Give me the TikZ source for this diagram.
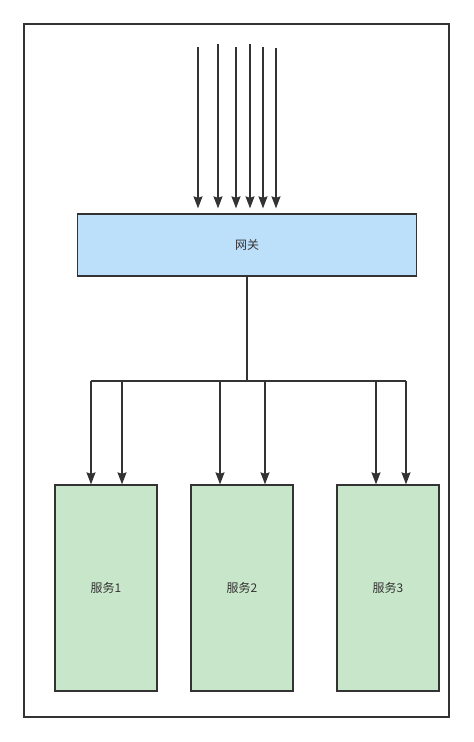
\documentclass[tikz,border=0pt]{standalone}
\usepackage{fontspec}
\newfontfamily\cjk{Noto Sans CJK SC}
\usepackage{tikz}
\usetikzlibrary{arrows.meta,positioning}
\definecolor{edgegray}{RGB}{51,51,51}
\definecolor{gwblue}{RGB}{189,224,250}
\definecolor{svgreen}{RGB}{200,230,201}

\begin{document}
\begin{tikzpicture}[x=1pt, y=-1pt,
    every node/.style={font=\cjk\fontsize{12pt}{14pt}\selectfont, text=edgegray},
    box/.style={rectangle, draw=edgegray, line width=1.3pt, inner sep=0pt},
    link/.style={draw=edgegray, line width=1.3pt},
    arr/.style={link, -{Stealth[length=12pt, width=9pt, inset=1.5pt]}}]
  \useasboundingbox (0,0) rectangle (474,742);
  \draw[link] (24,24) rectangle (449,717);
  \node[box,fill=gwblue,minimum width=339pt,minimum height=62pt] (gw) at (247,245) {网关};
  \node[box,fill=svgreen,minimum width=102pt,minimum height=206pt] (s1) at (106,588) {服务1};
  \node[box,fill=svgreen,minimum width=102pt,minimum height=206pt] (s2) at (242,588) {服务2};
  \node[box,fill=svgreen,minimum width=102pt,minimum height=206pt] (s3) at (388,588) {服务3};
  % incoming requests
  \foreach \x/\y [count=\i] in {198/47, 218/44, 236/47, 250/44, 263/47, 276/48} {
    \coordinate (in\i) at (\x,\y);
    \draw[arr, shorten >=5pt] (in\i) -- (in\i |- gw.north);
  }
  % fan out to the services
  \foreach \x [count=\i] in {91, 122, 220, 265, 376, 406}
    \coordinate (tap\i) at (\x,381);
  \coordinate (hub) at (gw.south |- tap1);
  \draw[link] (gw.south) -- (hub);
  \draw[link] (tap1) -- (tap6);
  \draw[arr] (tap1) -- (tap1 |- s1.north);
  \draw[arr] (tap2) -- (tap2 |- s1.north);
  \draw[arr] (tap3) -- (tap3 |- s2.north);
  \draw[arr] (tap4) -- (tap4 |- s2.north);
  \draw[arr] (tap5) -- (tap5 |- s3.north);
  \draw[arr] (tap6) -- (tap6 |- s3.north);
\end{tikzpicture}
\end{document}
